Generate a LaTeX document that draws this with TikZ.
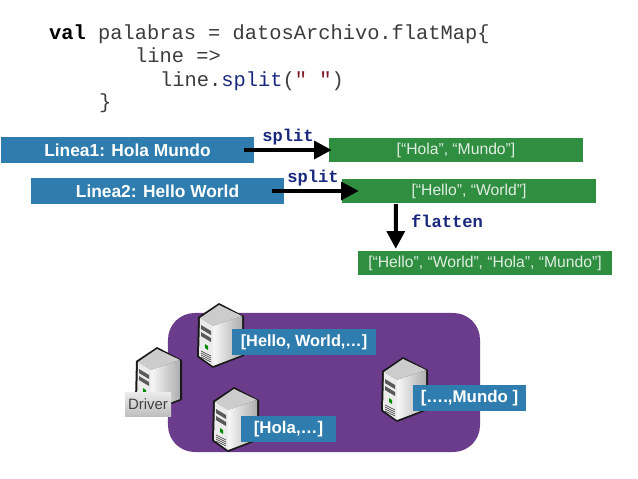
\documentclass[tikz,border=0pt]{standalone}
\usepackage{fontspec}
\setmainfont{Liberation Sans}
\setmonofont{Liberation Mono}
\usetikzlibrary{arrows.meta, shadows}

\definecolor{boxblue}{RGB}{47,125,175}
\definecolor{boxgreen}{RGB}{47,142,64}
\definecolor{clusterpurple}{RGB}{108,60,140}
\definecolor{codenavy}{RGB}{25,40,125}
\definecolor{codegray}{RGB}{60,60,60}
\definecolor{codered}{RGB}{130,25,40}

\begin{document}
\begin{tikzpicture}[
    x=0.03cm, y=-0.03cm,
    linebox/.style={rectangle, fill=boxblue, text=white, minimum width=7.59cm, minimum height=0.76cm, inner sep=0pt, font=\fontsize{14.8}{16}\selectfont\bfseries, drop shadow={shadow xshift=0.3pt, shadow yshift=-0.6pt, opacity=0.3}},
    listbox/.style={rectangle, fill=boxgreen, text=white!85!boxgreen, minimum width=7.62cm, minimum height=0.72cm, inner sep=0pt, font=\fontsize{13.4}{15}\selectfont},
    partbox/.style={rectangle, fill=boxblue, text=white, minimum height=0.76cm, inner sep=0pt, font=\fontsize{14.4}{16}\selectfont\bfseries, drop shadow={shadow xshift=0.3pt, shadow yshift=-0.6pt, opacity=0.3}},
    drivertag/.style={rectangle, top color=white!92!black, bottom color=white!75!black, text=black!75, minimum width=1.38cm, minimum height=0.72cm, inner sep=0pt, font=\fontsize{12.8}{14}\selectfont},
    code/.style={anchor=base west, inner sep=0pt, text=codegray, font=\ttfamily\fontsize{17.4}{20}\selectfont},
    oplabel/.style={inner sep=0pt, text=codenavy, font=\ttfamily\bfseries\fontsize{14.6}{16}\selectfont},
    bigarrow/.style={-{Triangle[length=15pt, width=15pt]}, line width=3.4pt, black},
    server/.pic={
        % top, side and front faces
        \fill[black!90] (21,-1) -- (46,12) -- (46,52) -- (15,64) -- (-1,53) -- (0,13) -- cycle;
        \fill[white!80!black] (21,1) -- (44,12) -- (15,22) -- (2,14) -- cycle;
        \shade[left color=white!97!black, right color=white!68!black] (15,22) -- (44,12) -- (44,51) -- (15,62) -- cycle;
        \fill[white!92!black] (2,14) -- (15,22) -- (15,62) -- (1,52) -- cycle;
        % drive bays, light and vents
        \fill[black!65] (3,21) -- (13,27) -- (13,31) -- (3,25) -- cycle;
        \fill[black!65] (3,28) -- (13,34) -- (13,38) -- (3,32) -- cycle;
        \fill[green!55!black] (7,40) -- (10,42) -- (10,46) -- (7,44) -- cycle;
        \foreach \ventpos in {47,49,51,53} {
            \draw[black!80, line width=0.5pt] (3,\ventpos) -- (13,\ventpos+5);
        }
    }
]
\useasboundingbox (0,0) rectangle (638,479);

% Code
\node[code] (line1) at (49,40) {\textbf{\textcolor{black}{val}} palabras = datosArchivo.flatMap\{};
\node[code] (line2) at (135,63) {line =>};
\node[code] (line3) at (160,87) {line.\textcolor{codenavy}{split}(\textcolor{codered}{" "})};
\node[code] (line4) at (99,109) {\}};

% Lines and split results
\node[linebox] (linea1) at (127.5,150) {Linea1: Hola Mundo};
\node[linebox] (linea2) at (157.5,191) {Linea2: Hello World};
\node[listbox] (hola) at (456,150) {[“Hola”, “Mundo”]};
\node[listbox] (hello) at (469,191) {[“Hello”, “World”]};
\node[listbox] (flat) at (485,263) {[“Hello”, “World”, “Hola”, “Mundo”]};

% Arrows
\draw[bigarrow] ([xshift=-0.3cm]linea1.east) -- ([xshift=0.09cm]hola.west);
\draw[bigarrow] ([xshift=-0.36cm]linea2.east) -- ([xshift=0.51cm]hello.west);
\draw[bigarrow] ([xshift=1.62cm, yshift=-0.03cm]hello.south west) -- ([xshift=1.14cm, yshift=0.06cm]flat.north west);

\node[oplabel] (split1) at (288,137) {split};
\node[oplabel] (split2) at (313,178) {split};
\node[oplabel] (flatten) at (447,221) {flatten};

% Cluster
\node[rectangle, fill=clusterpurple, rounded corners=0.8cm, minimum width=9.36cm, minimum height=4.17cm, inner sep=0pt] (cluster) at (324,382.5) {};

\pic (srvdriver) at (136,348) {server};
\pic (srvhello) at (198,304) {server};
\pic (srvhola) at (213,388) {server};
\pic (srvmundo) at (382,358) {server};

\node[drivertag] (driver) at (148,404) {Driver};
\node[partbox, minimum width=4.32cm, font=\fontsize{13.9}{16}\selectfont\bfseries] (parthello) at (304,342) {[Hello, World,…]};
\node[partbox, minimum width=2.85cm] (parthola) at (288.5,429) {[Hola,…]};
\node[partbox, minimum width=3.39cm] (partmundo) at (469.5,398) {[….,Mundo ]};

\end{tikzpicture}
\end{document}
